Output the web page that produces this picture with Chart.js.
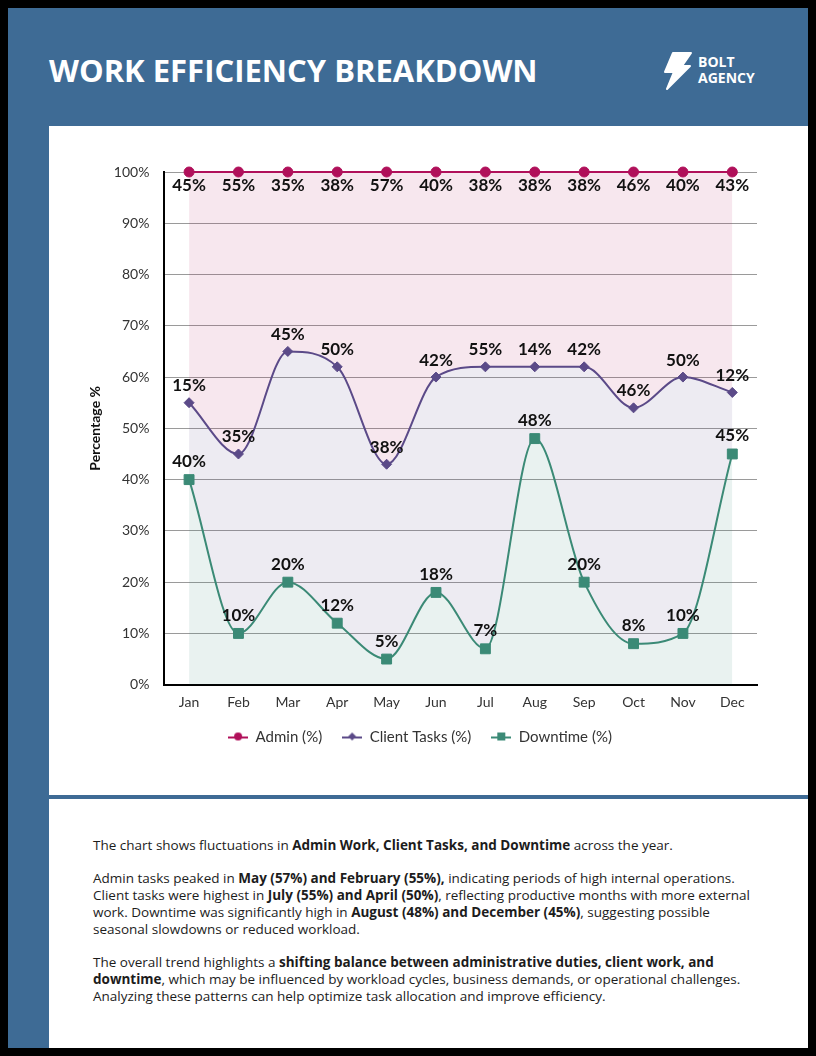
<!DOCTYPE html>
<html>
<head>
<meta charset="utf-8">
<script src="https://cdn.jsdelivr.net/npm/chart.js@4.4.0/dist/chart.umd.min.js"></script>
<style>
  body { margin: 0; background: #000; }
  .page { position: relative; width: 816px; height: 1056px; background: #000; overflow: hidden; font-family: Lato, sans-serif; }
  .frame { position: absolute; left: 8px; top: 8px; width: 800px; height: 1040px; background: #3e6b95; }
  h1 { position: absolute; left: 41px; top: 42px; margin: 0; color: #fff; font: 700 31px/40px "Open Sans", sans-serif; white-space: nowrap; }
  .logo { position: absolute; left: 652px; top: 44px; }
  .logo-text { position: absolute; left: 690px; top: 46px; color: #fff; font: 700 14px/16px "Open Sans", sans-serif; }
  .panel1 { position: absolute; left: 41px; top: 118px; width: 759px; height: 669px; background: #fff; }
  .panel2 { position: absolute; left: 41px; top: 791px; width: 759px; height: 249px; background: #fff; }
  .text { position: absolute; left: 44px; top: 38px; width: 715px; color: #1c1c1c; font: 13.5px/17px "Open Sans", sans-serif; white-space: nowrap; }
  .text p { margin: 0 0 16px 0; }
</style>
</head>
<body>
<div class="page">
  <div class="frame">
    <h1>WORK EFFICIENCY BREAKDOWN</h1>
    <svg class="logo" width="34" height="38" viewBox="0 0 34 38">
      <path d="M13 1 L31 1 L22 14 L30 14 L7 37 L14 20 L5 20 Z" fill="#fff" stroke="#fff" stroke-width="2" stroke-linejoin="round"/>
    </svg>
    <div class="logo-text">BOLT<br>AGENCY</div>
    <div class="panel1">
      <canvas id="effChart" width="759" height="669"></canvas>
    </div>
    <div class="panel2">
      <div class="text">
        <p>The chart shows fluctuations in <b>Admin Work, Client Tasks, and Downtime</b> across the year.</p>
        <p>Admin tasks peaked in <b>May (57%) and February (55%),</b> indicating periods of high internal operations.<br>
        Client tasks were highest in <b>July (55%) and April (50%)</b>, reflecting productive months with more external<br>
        work. Downtime was significantly high in <b>August (48%) and December (45%)</b>, suggesting possible<br>
        seasonal slowdowns or reduced workload.</p>
        <p>The overall trend highlights a <b>shifting balance between administrative duties, client work, and<br>
        downtime</b>, which may be influenced by workload cycles, business demands, or operational challenges.<br>
        Analyzing these patterns can help optimize task allocation and improve efficiency.</p>
      </div>
    </div>
  </div>
</div>

<script>
const months = ['Jan', 'Feb', 'Mar', 'Apr', 'May', 'Jun', 'Jul', 'Aug', 'Sep', 'Oct', 'Nov', 'Dec'];
const downtime = [40, 10, 20, 12, 5, 18, 7, 48, 20, 8, 10, 45];
const clientTasks = [15, 35, 45, 50, 38, 42, 55, 14, 42, 46, 50, 12];
const admin = [45, 55, 35, 38, 57, 40, 38, 38, 38, 46, 40, 43];
const yTicks = [0, 10, 20, 30, 40, 50, 60, 70, 80, 90, 100];

const adminColor = '#b0105a';
const clientColor = '#5b4a88';
const downColor = '#3b8a76';

// little line + marker pictures for the legend
function legendIcon(color, style) {
  const c = document.createElement('canvas');
  c.width = 20; c.height = 12;
  const g = c.getContext('2d');
  g.strokeStyle = color; g.fillStyle = color; g.lineWidth = 2;
  g.beginPath(); g.moveTo(0, 6); g.lineTo(20, 6); g.stroke();
  g.beginPath();
  if (style === 'circle') g.arc(10, 5, 4, 0, Math.PI * 2);
  else if (style === 'rectRot') { g.moveTo(10, 1); g.lineTo(14, 5); g.lineTo(10, 9); g.lineTo(6, 5); g.closePath(); }
  else g.rect(6, 1, 8, 8);
  g.fill();
  return c;
}

const icons = [legendIcon(downColor, 'rect'), legendIcon(clientColor, 'rectRot'), legendIcon(adminColor, 'circle')];

const valueLabels = {
  id: 'valueLabels',
  afterDatasetsDraw(chart) {
    const ctx = chart.ctx;
    ctx.save();
    ctx.font = 'bold 17px Lato';
    ctx.fillStyle = '#111';
    ctx.textAlign = 'center';
    ctx.textBaseline = 'middle';
    chart.data.datasets.forEach((ds, i) => {
      const meta = chart.getDatasetMeta(i);
      const dy = i === 2 ? 14 : (i === 1 ? -17 : -18);
      meta.data.forEach((pt, j) => {
        ctx.fillText(ds.data[j] + '%', pt.x, pt.y + dy);
      });
    });
    ctx.restore();
  }
};

new Chart(document.getElementById('effChart').getContext('2d'), {
  type: 'line',
  data: {
    labels: months,
    datasets: [
      {
        label: 'Downtime (%)',
        data: downtime,
        borderColor: downColor,
        backgroundColor: 'rgba(59, 138, 118, 0.11)',
        fill: 'origin',
        pointStyle: 'rect',
        pointRadius: 7,
        pointBackgroundColor: downColor,
        pointBorderColor: downColor
      },
      {
        label: 'Client Tasks (%)',
        data: clientTasks,
        borderColor: clientColor,
        backgroundColor: 'rgba(91, 74, 136, 0.11)',
        fill: '-1',
        pointStyle: 'rectRot',
        pointRadius: 5,
        pointBackgroundColor: clientColor,
        pointBorderColor: clientColor
      },
      {
        label: 'Admin (%)',
        data: admin,
        borderColor: adminColor,
        backgroundColor: 'rgba(176, 16, 90, 0.1)',
        fill: '-1',
        pointStyle: 'circle',
        pointRadius: 5,
        pointBackgroundColor: adminColor,
        pointBorderColor: adminColor
      }
    ]
  },
  options: {
    responsive: false,
    animation: false,
    layout: { padding: { top: 46, left: 34, right: 51, bottom: 40 } },
    elements: {
      line: { cubicInterpolationMode: 'monotone', borderWidth: 2 },
      point: { borderWidth: 1 }
    },
    datasets: { line: { clip: false } },
    scales: {
      x: {
        offset: true,
        grid: { display: false, drawTicks: false },
        border: { color: '#000', width: 2 },
        ticks: { color: '#333', font: { family: 'Lato', size: 14 }, padding: 9 },
        afterFit: (scale) => { scale.height -= 9.5; }
      },
      y: {
        stacked: true,
        min: 0,
        max: 100,
        afterBuildTicks: (scale) => { scale.ticks = yTicks.map(v => ({ value: v })); },
        grid: { color: '#9a9a9a', drawTicks: false },
        border: { color: '#000', width: 2 },
        ticks: { color: '#333', font: { family: 'Lato', size: 14 }, padding: 15, callback: v => v + '%' },
        title: { display: true, text: 'Percentage %', color: '#111', font: { family: 'Lato', size: 14, weight: 'bold' }, padding: { top: 4, bottom: -5 } }
      }
    },
    plugins: {
      tooltip: { enabled: false },
      legend: {
        position: 'bottom',
        reverse: true,
        labels: {
          usePointStyle: true,
          pointStyleWidth: 20,
          color: '#333',
          font: { family: 'Lato', size: 15 },
          padding: 20,
          generateLabels: (chart) => {
            const items = Chart.defaults.plugins.legend.labels.generateLabels(chart);
            items.forEach(it => { it.pointStyle = icons[it.datasetIndex]; });
            return items;
          }
        }
      }
    }
  },
  plugins: [valueLabels]
});
</script>
</body>
</html>
